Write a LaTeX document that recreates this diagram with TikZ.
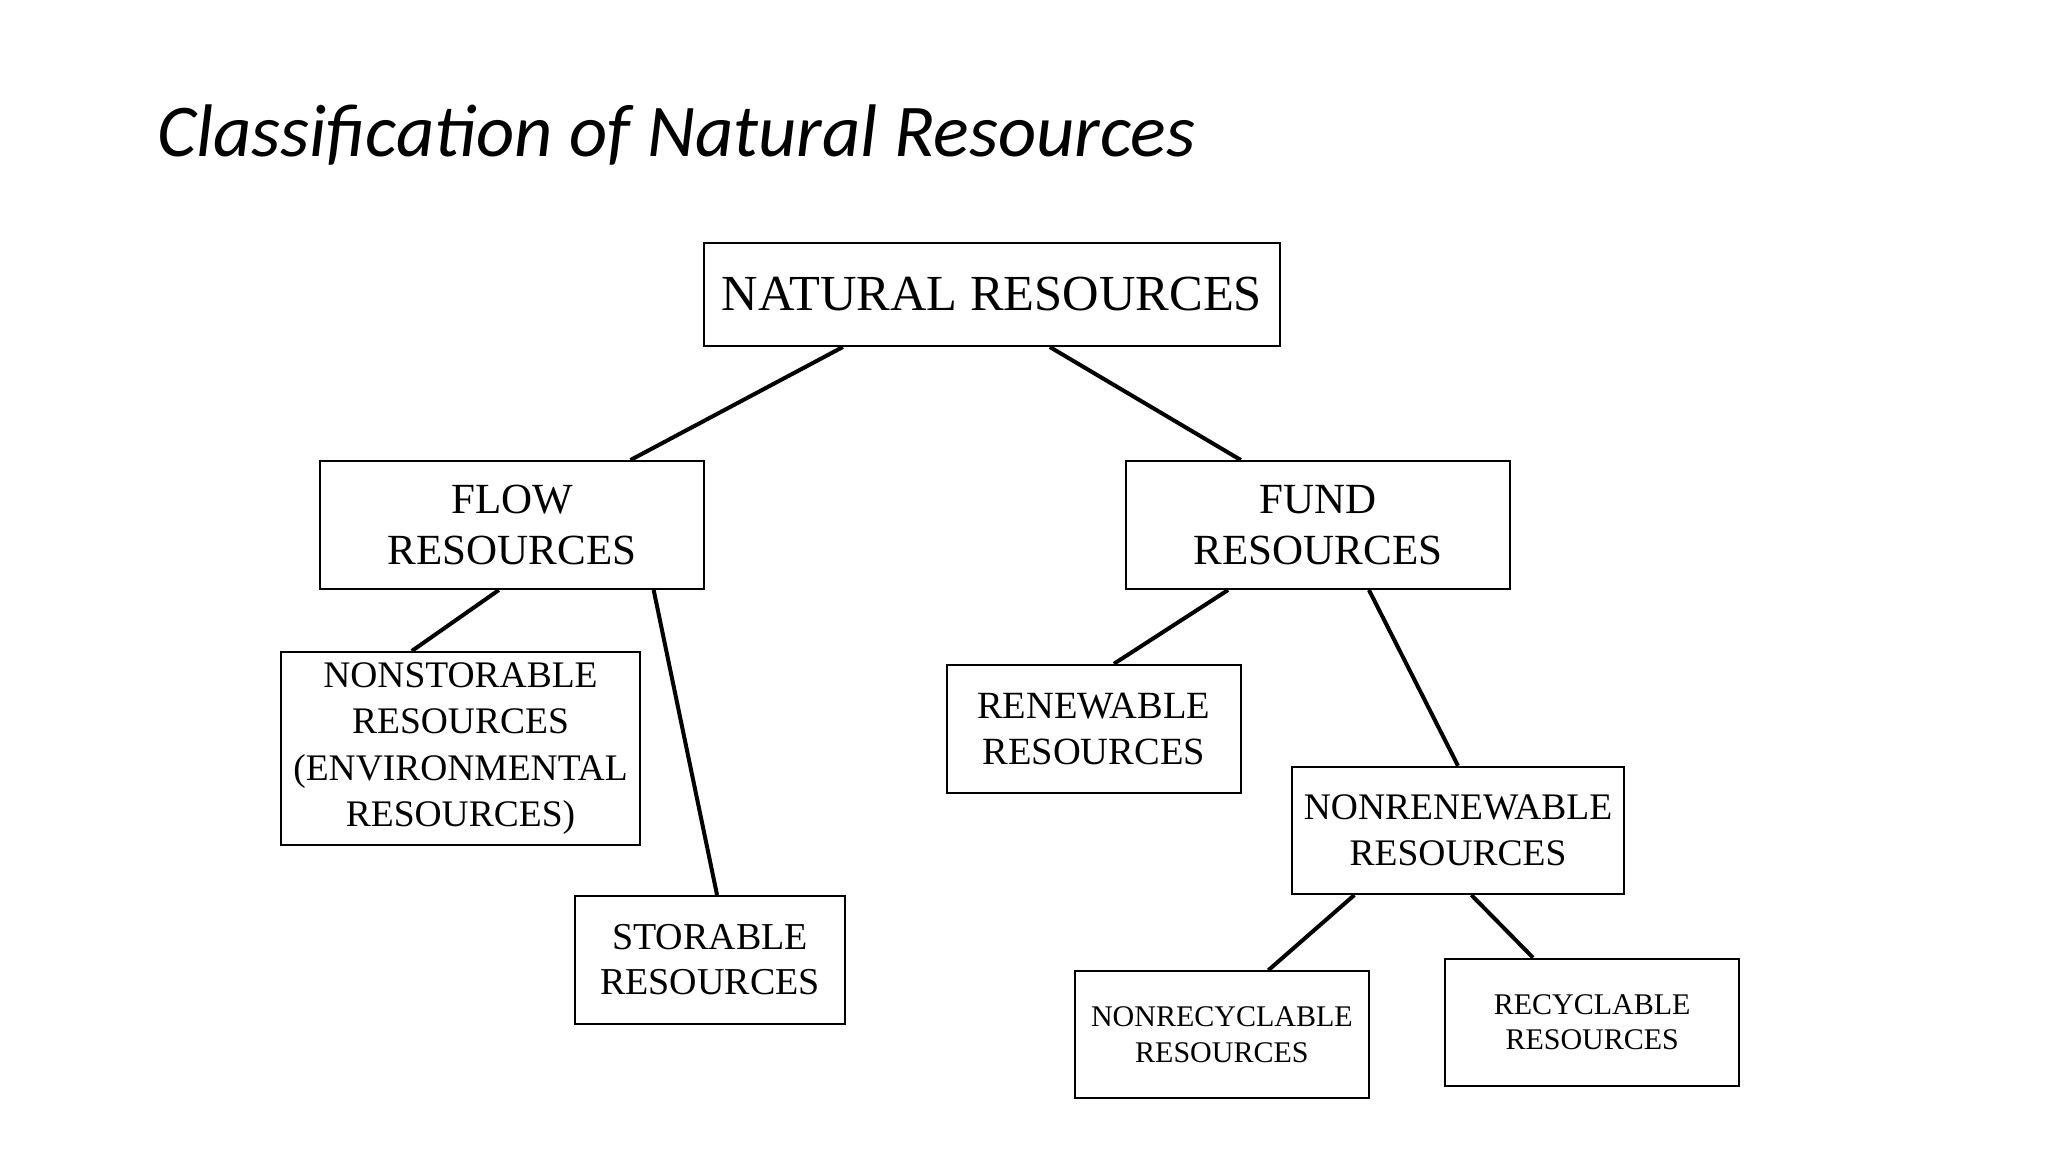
\documentclass[tikz,border=0pt]{standalone}
\usepackage{fontspec}
\setmainfont{Liberation Serif}
\newfontfamily\headfont{Carlito}
\usetikzlibrary{calc}

\tikzset{
  resbox/.style={draw, line width=2pt, inner sep=2pt, align=center},
  link/.style={line width=4pt},
}

\begin{document}
\begin{tikzpicture}[x=1pt,y=1pt,yscale=-1,xscale=1]
\fill[white] (0,0) rectangle (2048,1152);
\useasboundingbox (0,0) rectangle (2048,1152);

% Title
\node (title) at (157,156) [anchor=base west, inner sep=0pt, font=\headfont\itshape\fontsize{74.5}{90}\selectfont] {Classification of Natural Resources};

% Boxes
\node (nat) at (992,294.5) [resbox, minimum width=576pt, minimum height=103pt, font=\fontsize{50.5}{60}\selectfont] {NATURAL RESOURCES};
\node (flow) at (512,525) [resbox, minimum width=384pt, minimum height=128pt, font=\fontsize{43}{51}\selectfont] {FLOW\\RESOURCES};
\node (fund) at (1318,525) [resbox, minimum width=384pt, minimum height=128pt, font=\fontsize{43}{51}\selectfont] {FUND\\RESOURCES};
\node (nonstor) at (460.5,748.5) [resbox, minimum width=359pt, minimum height=193pt, font=\fontsize{37.5}{46.5}\selectfont] {NONSTORABLE\\RESOURCES\\(ENVIRONMENTAL\\RESOURCES)};
\node (stor) at (710,960) [resbox, minimum width=269.4pt, minimum height=128pt, font=\fontsize{38}{45}\selectfont] {STORABLE\\RESOURCES};
\node (ren) at (1093.8,728.8) [resbox, minimum width=293.6pt, minimum height=128pt, font=\fontsize{38.5}{45.5}\selectfont] {RENEWABLE\\RESOURCES};
\node (nonren) at (1458,830.4) [resbox, minimum width=332.2pt, minimum height=127.2pt, font=\fontsize{37.5}{46}\selectfont] {NONRENEWABLE\\RESOURCES};
\node (nonrec) at (1221.9,1034.8) [resbox, minimum width=293.2pt, minimum height=127pt, font=\fontsize{30}{35.5}\selectfont] {NONRECYCLABLE\\RESOURCES};
\node (rec) at (1592.2,1022.3) [resbox, minimum width=294.3pt, minimum height=127.4pt, font=\fontsize{30}{35.5}\selectfont] {RECYCLABLE\\RESOURCES};

% Links
\draw[link] ($(nat.south west)!0.242!(nat.south east)$) -- ($(flow.north west)!0.807!(flow.north east)$);
\draw[link] ($(nat.south west)!0.60!(nat.south east)$) -- ($(fund.north west)!0.30!(fund.north east)$);
\draw[link] ($(flow.south west)!0.466!(flow.south east)$) -- ($(nonstor.north west)!0.365!(nonstor.north east)$);
\draw[link] ($(flow.south west)!0.867!(flow.south east)$) -- ($(stor.north west)!0.526!(stor.north east)$);
\draw[link] ($(fund.south west)!0.267!(fund.south east)$) -- ($(ren.north west)!0.568!(ren.north east)$);
\draw[link] ($(fund.south west)!0.632!(fund.south east)$) -- ($(nonren.north west)!0.50!(nonren.north east)$);
\draw[link] ($(nonren.south west)!0.19!(nonren.south east)$) -- ($(nonrec.north west)!0.657!(nonrec.north east)$);
\draw[link] ($(nonren.south west)!0.54!(nonren.south east)$) -- ($(rec.north west)!0.30!(rec.north east)$);

\end{tikzpicture}
\end{document}
